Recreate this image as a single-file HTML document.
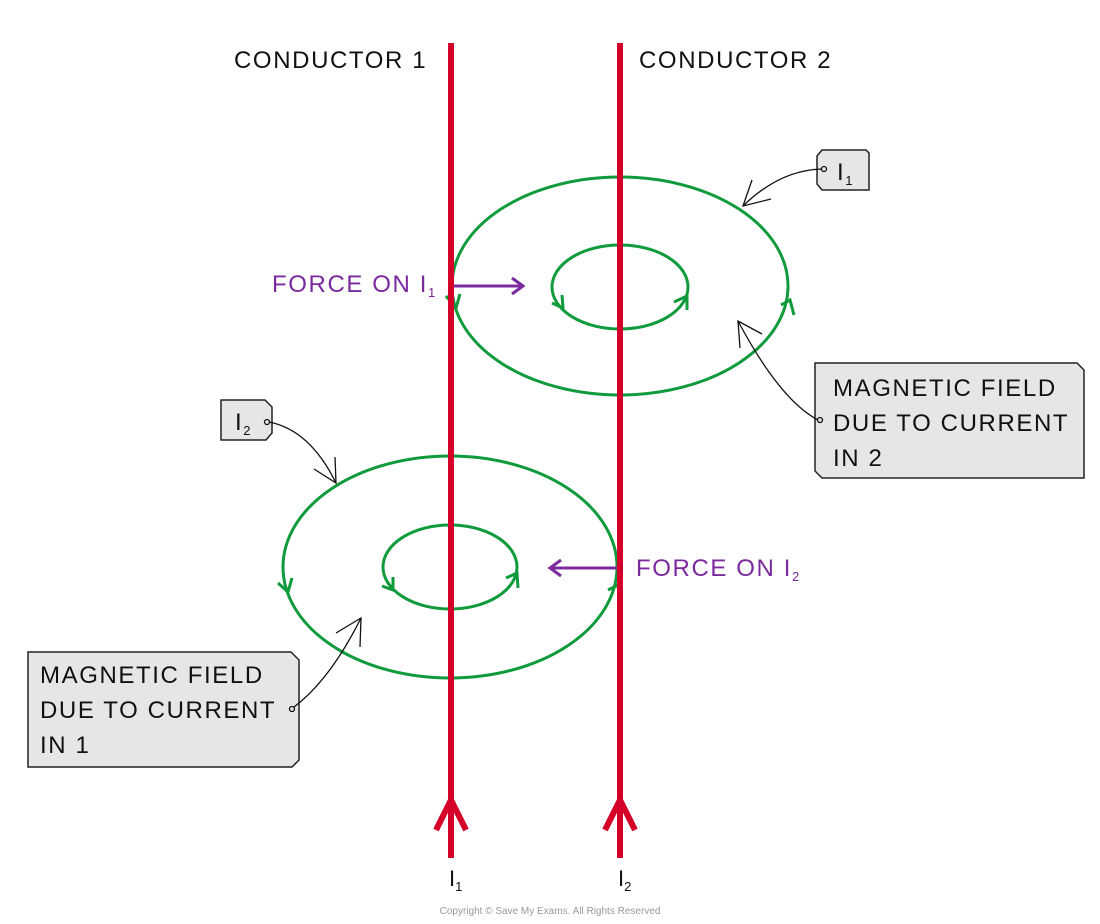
<!DOCTYPE html>
<html><head><style>
body{margin:0;background:#fff;}
svg{display:block;font-family:"Liberation Sans",sans-serif;}
</style></head><body>
<svg width="1100" height="924" viewBox="0 0 1100 924">
<g fill="none" stroke="#0f9a3c" stroke-width="3">
<ellipse cx="620" cy="286" rx="168" ry="109"/>
<ellipse cx="620" cy="287" rx="68" ry="42"/>
<ellipse cx="450" cy="567" rx="167" ry="111"/>
<ellipse cx="450" cy="567" rx="67" ry="42"/>
<path d="M446 296 L456 308 L460 294"/>
<path d="M552 303 L563 308 L562 295"/>
<path d="M674 302 L687 296 L687 310"/>
<path d="M781 305 L790 300 L794 315"/>
<path d="M278 583 L288 592 L292 578"/>
<path d="M382 586 L393 590 L393 577"/>
<path d="M506 578 L517 573 L518 588"/>
<path d="M608 590 L618 585 L620 600"/>
</g>
<g stroke="#d4002a" stroke-width="6" fill="none">
<line x1="451" y1="43" x2="451" y2="858"/>
<line x1="620" y1="43" x2="620" y2="858"/>
<path d="M436 830 L451 800 L466 830"/>
<path d="M605 830 L620 800 L635 830"/>
</g>
<g stroke="#7b2a9e" stroke-width="3" fill="none">
<line x1="454" y1="286" x2="522" y2="286"/>
<path d="M512 278 L523 286 L512 294"/>
<line x1="617" y1="568" x2="550" y2="568"/>
<path d="M561 560 L550 568 L561 576"/>
</g>
<g font-size="24" fill="#111" letter-spacing="1.6">
<text x="234" y="68">CONDUCTOR 1</text>
<text x="639" y="68">CONDUCTOR 2</text>
</g>
<g font-size="24" fill="#7b2a9e" letter-spacing="1.6">
<text x="272" y="292">FORCE ON I<tspan font-size="13" dy="5">1</tspan></text>
<text x="636" y="576">FORCE ON I<tspan font-size="13" dy="5">2</tspan></text>
</g>
<g font-size="22" fill="#111">
<text x="449" y="886">I<tspan font-size="13" dy="5">1</tspan></text>
<text x="618" y="886">I<tspan font-size="13" dy="5">2</tspan></text>
</g>
<g fill="#e6e6e6" stroke="#222" stroke-width="1.5">
<path d="M822 150 L866 150 L869 153 L869 190 L822 190 L817 184 L817 156 Z"/>
<path d="M221 400 L265 400 L272 407 L272 433 L266 440 L221 440 Z"/>
<path d="M815 363 L1077 363 L1084 370 L1084 478 L822 478 L815 471 Z"/>
<path d="M28 652 L291 652 L299 660 L299 760 L292 767 L28 767 Z"/>
</g>
<g font-size="24" fill="#111" letter-spacing="1.6">
<text x="837" y="180">I<tspan font-size="13" dy="5">1</tspan></text>
<text x="235" y="430">I<tspan font-size="13" dy="5">2</tspan></text>
<text x="833" y="396">MAGNETIC FIELD</text>
<text x="833" y="431">DUE TO CURRENT</text>
<text x="833" y="466">IN 2</text>
<text x="40" y="683">MAGNETIC FIELD</text>
<text x="40" y="718">DUE TO CURRENT</text>
<text x="40" y="753">IN 1</text>
</g>
<g fill="none" stroke="#111" stroke-width="1.3">
<circle cx="824" cy="169" r="2.5"/>
<path d="M822 169 Q780 170 743 206"/>
<path d="M752 180 L743 206 L771 199"/>
<circle cx="267" cy="422" r="2.5"/>
<path d="M269 422 Q310 430 336 483"/>
<path d="M314 469 L336 483 L335 457"/>
<circle cx="820" cy="420" r="2.5"/>
<path d="M818 420 Q780 400 738 321"/>
<path d="M762 334 L738 321 L740 348"/>
<circle cx="292" cy="709" r="2.5"/>
<path d="M294 707 Q330 680 361 618"/>
<path d="M336 633 L361 618 L360 647"/>
</g>
<text x="550" y="914" font-size="10" fill="#999" text-anchor="middle">Copyright © Save My Exams. All Rights Reserved</text>
</svg>
</body></html>
